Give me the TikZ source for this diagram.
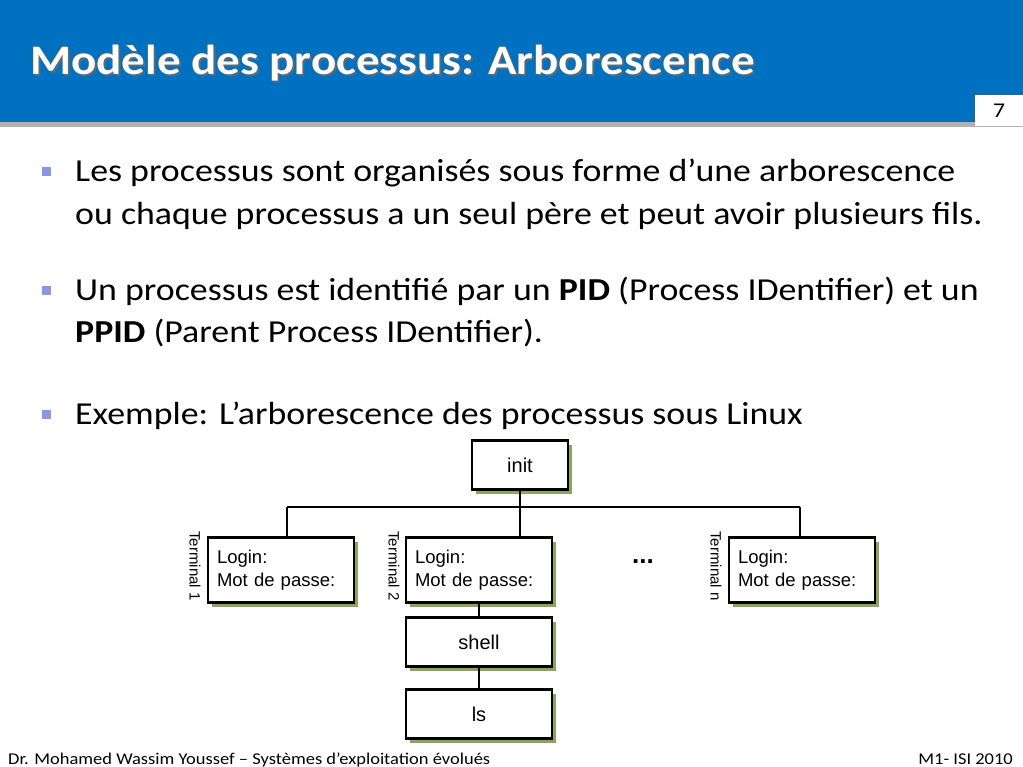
\documentclass[tikz,border=0pt]{standalone}
\usepackage{fontspec}
\setmainfont[FakeStretch=1.12]{Carlito}
\newfontfamily\arial{Liberation Sans}
\begin{document}
\begin{tikzpicture}[x=1pt,y=-1pt,
  box/.style={draw=black,line width=2.2pt,fill=white,minimum width=146pt,minimum height=49pt,inner sep=0pt},
  conn/.style={line width=2.2pt},
  term/.style={rotate=-90,font=\arial\fontsize{15}{16}\selectfont,anchor=center},
  bul/.style={fill=bulletblue,minimum size=9pt,inner sep=0pt},
  btxt/.style={anchor=base west,font=\fontsize{32}{36}\selectfont,inner sep=0pt}]
\definecolor{hdrblue}{RGB}{0,112,192}
\definecolor{shadowgreen}{RGB}{140,165,90}
\definecolor{bulletblue}{RGB}{140,150,230}
\useasboundingbox (0,0) rectangle (1023,767);
\fill[white] (0,0) rectangle (1023,767);
\fill[hdrblue] (0,0) rectangle (1023,122);
\fill[gray!60] (0,122) rectangle (1023,127);
\fill[white] (975,95) rectangle (1023,126);
\node[font=\fontsize{21}{22}\selectfont] (pg) at (999,111) {7};
\node[anchor=base west,text=black!60,font=\bfseries\fontsize{42}{46}\selectfont,inner sep=0pt] at (32,77) {Modèle des processus: Arborescence};
\node[anchor=base west,text=white,font=\bfseries\fontsize{42}{46}\selectfont,inner sep=0pt] (title) at (30,75) {Modèle des processus: Arborescence};
% bullets
\node[bul] (b1) at (46,172) {};
\node[btxt] (t1) at (75,182) {Les processus sont organisés sous forme d’une arborescence};
\node[btxt] (t1b) at (75,225) {ou chaque processus a un seul père et peut avoir plusieurs fils.};
\node[bul] (b2) at (46,291) {};
\node[btxt] (t2) at (75,301) {Un processus est identifié par un \textbf{PID} (Process IDentifier) et un};
\node[btxt] (t2b) at (75,343) {\textbf{PPID} (Parent Process IDentifier).};
\node[bul] (b3) at (46,414) {};
\node[btxt] (t3) at (75,424) {Exemple: L’arborescence des processus sous Linux};
% tree
\coordinate (h1) at (287,507);
\coordinate (h2) at (520,507);
\coordinate (hn) at (800,507);
\draw[conn] (h1) -- (hn);
\foreach \cx/\cy/\w/\h in {520/465/96/49, 281/570/146/65, 479/570/146/65, 802/570/146/65, 479/642/146/49, 479/714/146/49}
  \fill[shadowgreen] (\cx-\w/2+4,\cy-\h/2+4) rectangle (\cx+\w/2+4,\cy+\h/2+4);
\draw[conn] (h1) -- (287,538);
\draw[conn] (hn) -- (800,538);
\draw[conn] (520,490) -- (520,538);
\draw[conn] (479,603) -- (479,690);
\node[box,minimum width=96pt,font=\arial\fontsize{20}{22}\selectfont] (init) at (520,465) {init};
\foreach \n/\cx in {T1/281, T2/479, Tn/802}
  \node[box,minimum height=65pt,align=left,font=\arial\fontsize{18.5}{23}\selectfont,text width=128pt] (\n) at (\cx,570) {Login:\\Mot de passe:};
\node[box,font=\arial\fontsize{20}{22}\selectfont] (shell) at (479,642) {shell};
\node[box,font=\arial\fontsize{20}{22}\selectfont] (ls) at (479,714) {ls};
\node[term] (l1) at (195,566) {Terminal 1};
\node[term] (l2) at (394,566) {Terminal 2};
\node[term] (ln) at (716,566) {Terminal n};
\node[font=\arial\bfseries\fontsize{26}{26}\selectfont] (dots) at (643,562) {...};
% footer
\node[anchor=base west,font=\fontsize{16.5}{17}\selectfont,inner sep=0pt] (f1) at (8,764) {Dr. Mohamed Wassim Youssef – Systèmes d’exploitation évolués};
\node[anchor=base east,font=\fontsize{16.5}{17}\selectfont,inner sep=0pt] (f2) at (1013,764) {M1- ISI 2010};
\end{tikzpicture}
\end{document}
